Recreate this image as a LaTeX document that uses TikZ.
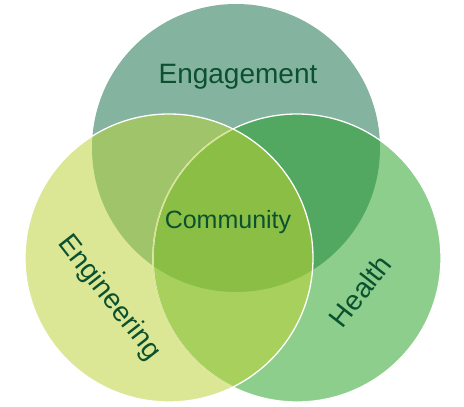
\documentclass[tikz,border=0pt]{standalone}
\usepackage{fontspec}
\setmainfont{Liberation Sans}
\usepackage{xcolor}

\definecolor{engagecol}{HTML}{84B3A0}
\definecolor{enginecol}{HTML}{DCE795}
\definecolor{healthcol}{HTML}{8ECE8C}
\definecolor{engengcol}{HTML}{A0C46A}
\definecolor{enghealcol}{HTML}{52A860}
\definecolor{enghealthcol}{HTML}{A8D05D}
\definecolor{commcol}{HTML}{8ABE45}
\definecolor{palerim}{HTML}{D6E48E}
\definecolor{textcol}{HTML}{0B5130}

\begin{document}
\begin{tikzpicture}[x=1pt, y=1pt,
            vennlabel/.style={text=textcol, inner sep=0pt, font=\fontsize{28}{30}\selectfont},
            rim/.style={draw=white, line width=1.3pt}
            ]
            \useasboundingbox (0,0) rectangle (464,407);

            % Circle centres
            \coordinate (engage) at (236,259);
            \coordinate (engine) at (169,149);
            \coordinate (health) at (297,149);

            % Base fills
            \fill[engagecol] (engage) circle (144pt);
            \fill[enginecol] (engine) circle (144pt);
            \fill[healthcol] (health) circle (144pt);

            % Overlaps
            \begin{scope}
                \clip (engage) circle (144pt);
                \fill[engengcol] (engine) circle (144pt);
                \fill[enghealcol] (health) circle (144pt);
            \end{scope}
            \begin{scope}
                \clip (engine) circle (144pt);
                \fill[enghealthcol] (health) circle (144pt);
                \clip (engage) circle (144pt);
                \fill[commcol] (health) circle (144pt);
            \end{scope}

            % Rims
            \draw[rim] (health) circle (144pt);
            \begin{scope}
                \clip (engine) circle (144pt);
                \draw[rim, draw=palerim] (health) circle (144pt);
            \end{scope}
            \draw[rim] (engine) circle (144pt);

            % Labels
            \node[vennlabel, anchor=base] (engagetxt) at (238,323) {Engagement};
            \node[vennlabel, anchor=base, font=\fontsize{25}{27}\selectfont] (commtxt) at (228,178) {Community};
            \node[vennlabel, rotate=-52] (enginetxt) at (109,109) {Engineering};
            \node[vennlabel, rotate=52] (healthtxt) at (360,116) {Health};
        \end{tikzpicture}
\end{document}
